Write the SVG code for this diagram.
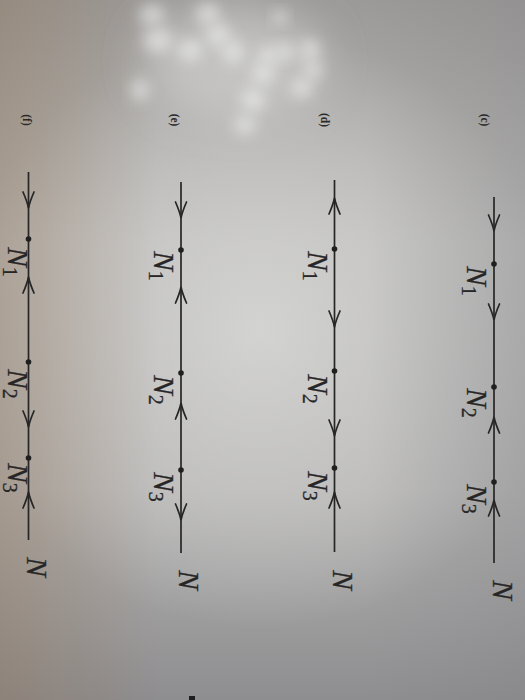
<svg xmlns="http://www.w3.org/2000/svg" xmlns:xlink="http://www.w3.org/1999/xlink" width="525" height="700" viewBox="0 0 525 700">
<defs>
  <linearGradient id="bgBase" x1="0" y1="0" x2="0" y2="1">
    <stop offset="0" stop-color="#9c9a98"/>
    <stop offset="0.35" stop-color="#bdbcba"/>
    <stop offset="0.7" stop-color="#b4b3b2"/>
    <stop offset="1" stop-color="#8e8d8f"/>
  </linearGradient>
  <radialGradient id="bgLight" cx="260" cy="330" r="300" gradientUnits="userSpaceOnUse">
    <stop offset="0" stop-color="#d6d6d5" stop-opacity="0.9"/>
    <stop offset="0.6" stop-color="#cfcfce" stop-opacity="0.45"/>
    <stop offset="1" stop-color="#cfcfce" stop-opacity="0"/>
  </radialGradient>
  <linearGradient id="bgWarm" x1="0" y1="0" x2="1" y2="0">
    <stop offset="0" stop-color="#8c6f52" stop-opacity="0.35"/>
    <stop offset="0.3" stop-color="#8c6f52" stop-opacity="0"/>
  </linearGradient>
  <linearGradient id="bgRight" x1="0" y1="0" x2="1" y2="0">
    <stop offset="0.7" stop-color="#7f7f84" stop-opacity="0"/>
    <stop offset="1" stop-color="#7f7f84" stop-opacity="0.3"/>
  </linearGradient>
  <filter id="blur" x="-50%" y="-50%" width="200%" height="200%">
    <feGaussianBlur stdDeviation="7"/>
  </filter>
  <filter id="haze" x="-50%" y="-50%" width="200%" height="200%">
    <feGaussianBlur stdDeviation="22"/>
  </filter>
  <path id="ah" d="M-5.5,-16 Q-1.2,-6 0,0 Q1.2,-6 5.5,-16"/>
  <style>
    .ax { stroke: #262626; stroke-width: 1.7; fill: none; }
    .arr { stroke: #262626; stroke-width: 1.7; fill: none; stroke-linecap: round; }
    .dot { fill: #1f1f1f; }
    .lbl { font-family: "Liberation Serif", "Times New Roman", serif; font-style: italic; font-size: 29.5px; fill: #262626; text-anchor: middle; stroke: #262626; stroke-width: 0.3; }
    .sub { font-style: normal; font-size: 20px; }
    .tag { font-family: "Liberation Serif", "Times New Roman", serif; font-weight: bold; font-size: 11.5px; fill: #2a2a2a; text-anchor: middle; }
    .glare { fill: #f0f0f0; filter: url(#blur); }
  </style>
</defs>

<g id="background">
  <rect width="525" height="700" fill="url(#bgBase)"/>
  <rect width="525" height="700" fill="url(#bgLight)"/>
  <rect width="525" height="700" fill="url(#bgWarm)"/>
  <rect width="525" height="700" fill="url(#bgRight)"/>
  <ellipse cx="235" cy="60" rx="90" ry="55" fill="#d8d8d8" opacity="0.55" filter="url(#haze)"/>
  <g opacity="0.6">
    <ellipse class="glare" cx="152" cy="15" rx="13" ry="11"/>
    <ellipse class="glare" cx="158" cy="40" rx="15" ry="13"/>
    <ellipse class="glare" cx="208" cy="14" rx="12" ry="11"/>
    <ellipse class="glare" cx="218" cy="35" rx="13" ry="12"/>
    <ellipse class="glare" cx="233" cy="52" rx="11" ry="12"/>
    <ellipse class="glare" cx="190" cy="50" rx="13" ry="11"/>
    <ellipse class="glare" cx="263" cy="74" rx="11" ry="11"/>
    <ellipse class="glare" cx="268" cy="56" rx="10" ry="10"/>
    <ellipse class="glare" cx="285" cy="52" rx="9" ry="9"/>
    <ellipse class="glare" cx="310" cy="50" rx="10" ry="11"/>
    <ellipse class="glare" cx="302" cy="88" rx="11" ry="10"/>
    <ellipse class="glare" cx="313" cy="70" rx="9" ry="10"/>
    <ellipse class="glare" cx="253" cy="100" rx="12" ry="12"/>
    <ellipse class="glare" cx="245" cy="125" rx="11" ry="10"/>
    <ellipse class="glare" cx="140" cy="90" rx="9" ry="11"/>
    <ellipse class="glare" cx="280" cy="17" rx="7" ry="7"/>
  </g>
  <rect x="189" y="696" width="6" height="4" fill="#1e1e20"/>
</g>

<g id="connectors">
  <!-- (c) -->
  <line class="ax" x1="494" y1="197" x2="494" y2="563"/>
  <use xlink:href="#ah" class="arr" transform="translate(494,231)"/>
  <use xlink:href="#ah" class="arr" transform="translate(494,320)"/>
  <use xlink:href="#ah" class="arr" transform="translate(494,417) rotate(180)"/>
  <use xlink:href="#ah" class="arr" transform="translate(494,500) rotate(180)"/>
  <!-- (d) -->
  <line class="ax" x1="334.5" y1="180" x2="334.5" y2="552"/>
  <use xlink:href="#ah" class="arr" transform="translate(334.5,198) rotate(180)"/>
  <use xlink:href="#ah" class="arr" transform="translate(334.5,327)"/>
  <use xlink:href="#ah" class="arr" transform="translate(334.5,436)"/>
  <use xlink:href="#ah" class="arr" transform="translate(334.5,492) rotate(180)"/>
  <!-- (e) -->
  <line class="ax" x1="181" y1="182" x2="181" y2="553"/>
  <use xlink:href="#ah" class="arr" transform="translate(181,218)"/>
  <use xlink:href="#ah" class="arr" transform="translate(181,287) rotate(180)"/>
  <use xlink:href="#ah" class="arr" transform="translate(181,403) rotate(180)"/>
  <use xlink:href="#ah" class="arr" transform="translate(181,520)"/>
  <!-- (f) -->
  <line class="ax" x1="28.5" y1="172" x2="28.5" y2="540"/>
  <use xlink:href="#ah" class="arr" transform="translate(28.5,208)"/>
  <use xlink:href="#ah" class="arr" transform="translate(28.5,277) rotate(180)"/>
  <use xlink:href="#ah" class="arr" transform="translate(28.5,427)"/>
  <use xlink:href="#ah" class="arr" transform="translate(28.5,492) rotate(180)"/>
</g>

<g id="diagram-c">
  <text class="tag" transform="translate(481,120) rotate(90)">(c)</text>
  <g id="c-N1"><circle class="dot" cx="494" cy="264" r="2.8"/><text class="lbl" transform="translate(467,281) rotate(90)">N<tspan class="sub" dy="5">1</tspan></text></g>
  <g id="c-N2"><circle class="dot" cx="494" cy="387" r="2.8"/><text class="lbl" transform="translate(467,403) rotate(90)">N<tspan class="sub" dy="5">2</tspan></text></g>
  <g id="c-N3"><circle class="dot" cx="494" cy="482" r="2.8"/><text class="lbl" transform="translate(467,499) rotate(90)">N<tspan class="sub" dy="5">3</tspan></text></g>
  <g id="c-N"><text class="lbl" transform="translate(493,590) rotate(90)">N</text></g>
</g>

<g id="diagram-d">
  <text class="tag" transform="translate(321,120) rotate(90)">(d)</text>
  <g id="d-N1"><circle class="dot" cx="334.5" cy="249" r="2.8"/><text class="lbl" transform="translate(308,266) rotate(90)">N<tspan class="sub" dy="5">1</tspan></text></g>
  <g id="d-N2"><circle class="dot" cx="334.5" cy="371" r="2.8"/><text class="lbl" transform="translate(308,389) rotate(90)">N<tspan class="sub" dy="5">2</tspan></text></g>
  <g id="d-N3"><circle class="dot" cx="334.5" cy="468" r="2.8"/><text class="lbl" transform="translate(308,486) rotate(90)">N<tspan class="sub" dy="5">3</tspan></text></g>
  <g id="d-N"><text class="lbl" transform="translate(333,580) rotate(90)">N</text></g>
</g>

<g id="diagram-e">
  <text class="tag" transform="translate(171,120) rotate(90)">(e)</text>
  <g id="e-N1"><circle class="dot" cx="181" cy="250" r="2.8"/><text class="lbl" transform="translate(154,266) rotate(90)">N<tspan class="sub" dy="5">1</tspan></text></g>
  <g id="e-N2"><circle class="dot" cx="181" cy="373" r="2.8"/><text class="lbl" transform="translate(154,390) rotate(90)">N<tspan class="sub" dy="5">2</tspan></text></g>
  <g id="e-N3"><circle class="dot" cx="181" cy="470" r="2.8"/><text class="lbl" transform="translate(154,487) rotate(90)">N<tspan class="sub" dy="5">3</tspan></text></g>
  <g id="e-N"><text class="lbl" transform="translate(179,580) rotate(90)">N</text></g>
</g>

<g id="diagram-f">
  <text class="tag" transform="translate(23,120) rotate(90)">(f)</text>
  <g id="f-N1"><circle class="dot" cx="28.5" cy="239" r="2.8"/><text class="lbl" transform="translate(8,262) rotate(90)">N<tspan class="sub" dy="5">1</tspan></text></g>
  <g id="f-N2"><circle class="dot" cx="28.5" cy="362" r="2.8"/><text class="lbl" transform="translate(8,384) rotate(90)">N<tspan class="sub" dy="5">2</tspan></text></g>
  <g id="f-N3"><circle class="dot" cx="28.5" cy="458" r="2.8"/><text class="lbl" transform="translate(8,478) rotate(90)">N<tspan class="sub" dy="5">3</tspan></text></g>
  <g id="f-N"><text class="lbl" transform="translate(27,567) rotate(90)">N</text></g>
</g>
</svg>
